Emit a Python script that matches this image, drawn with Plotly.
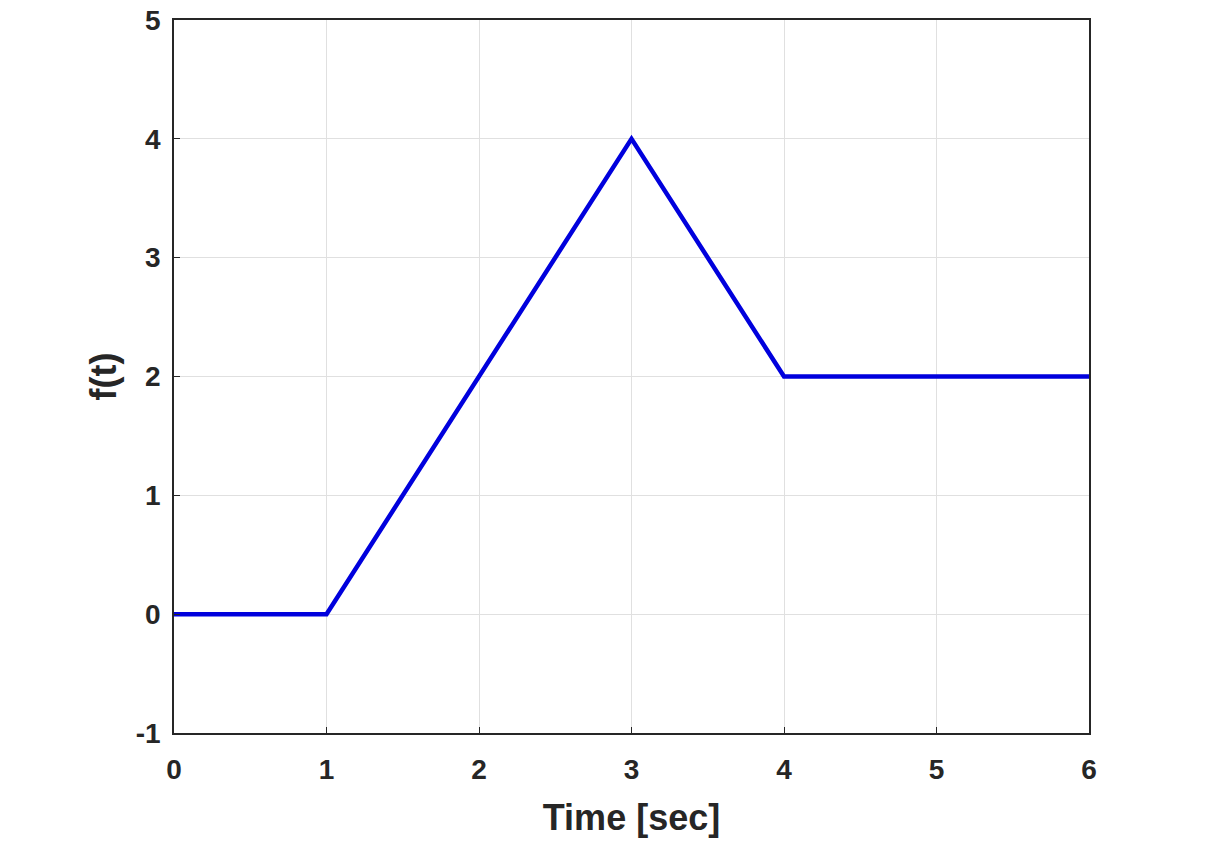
import plotly.graph_objects as go

t = [0, 1, 3, 4, 6]
f = [0, 0, 4, 2, 2]
x_ticks = [0, 1, 2, 3, 4, 5, 6]
y_ticks = [-1, 0, 1, 2, 3, 4, 5]

fig = go.Figure()
fig.add_trace(go.Scatter(x=t, y=f, mode="lines",
                         line=dict(color="#0000DD", width=4.5), showlegend=False))

font_tick = dict(family="Liberation Sans", size=28, color="#262626", weight="bold")
font_title = dict(family="Liberation Sans", size=36, color="#262626", weight="bold")
axis_common = dict(showline=True, linecolor="#262626", linewidth=1.5, mirror=True,
                   showgrid=True, gridcolor="#E0E0E0", gridwidth=1,
                   ticks="inside", ticklen=6, tickcolor="#262626",
                   zeroline=False, tickfont=font_tick, automargin=False,
                   ticklabeloverflow="allow")
fig.update_layout(
    width=1212, height=846,
    margin=dict(l=166, r=131, t=12, b=121),
    paper_bgcolor="white", plot_bgcolor="white",
    xaxis=dict(range=[0, 6], tickvals=x_ticks, ticktext=[str(v) for v in x_ticks],
               ticklabelstandoff=11,
               title=dict(text="Time [sec]", font=font_title, standoff=20),
               **axis_common),
    yaxis=dict(range=[-1, 5], tickvals=y_ticks, ticktext=[str(v) for v in y_ticks],
               ticklabelstandoff=6,
               title=dict(text="f(t)", font=font_title, standoff=8),
               **axis_common),
)
fig.write_html("out.html")
